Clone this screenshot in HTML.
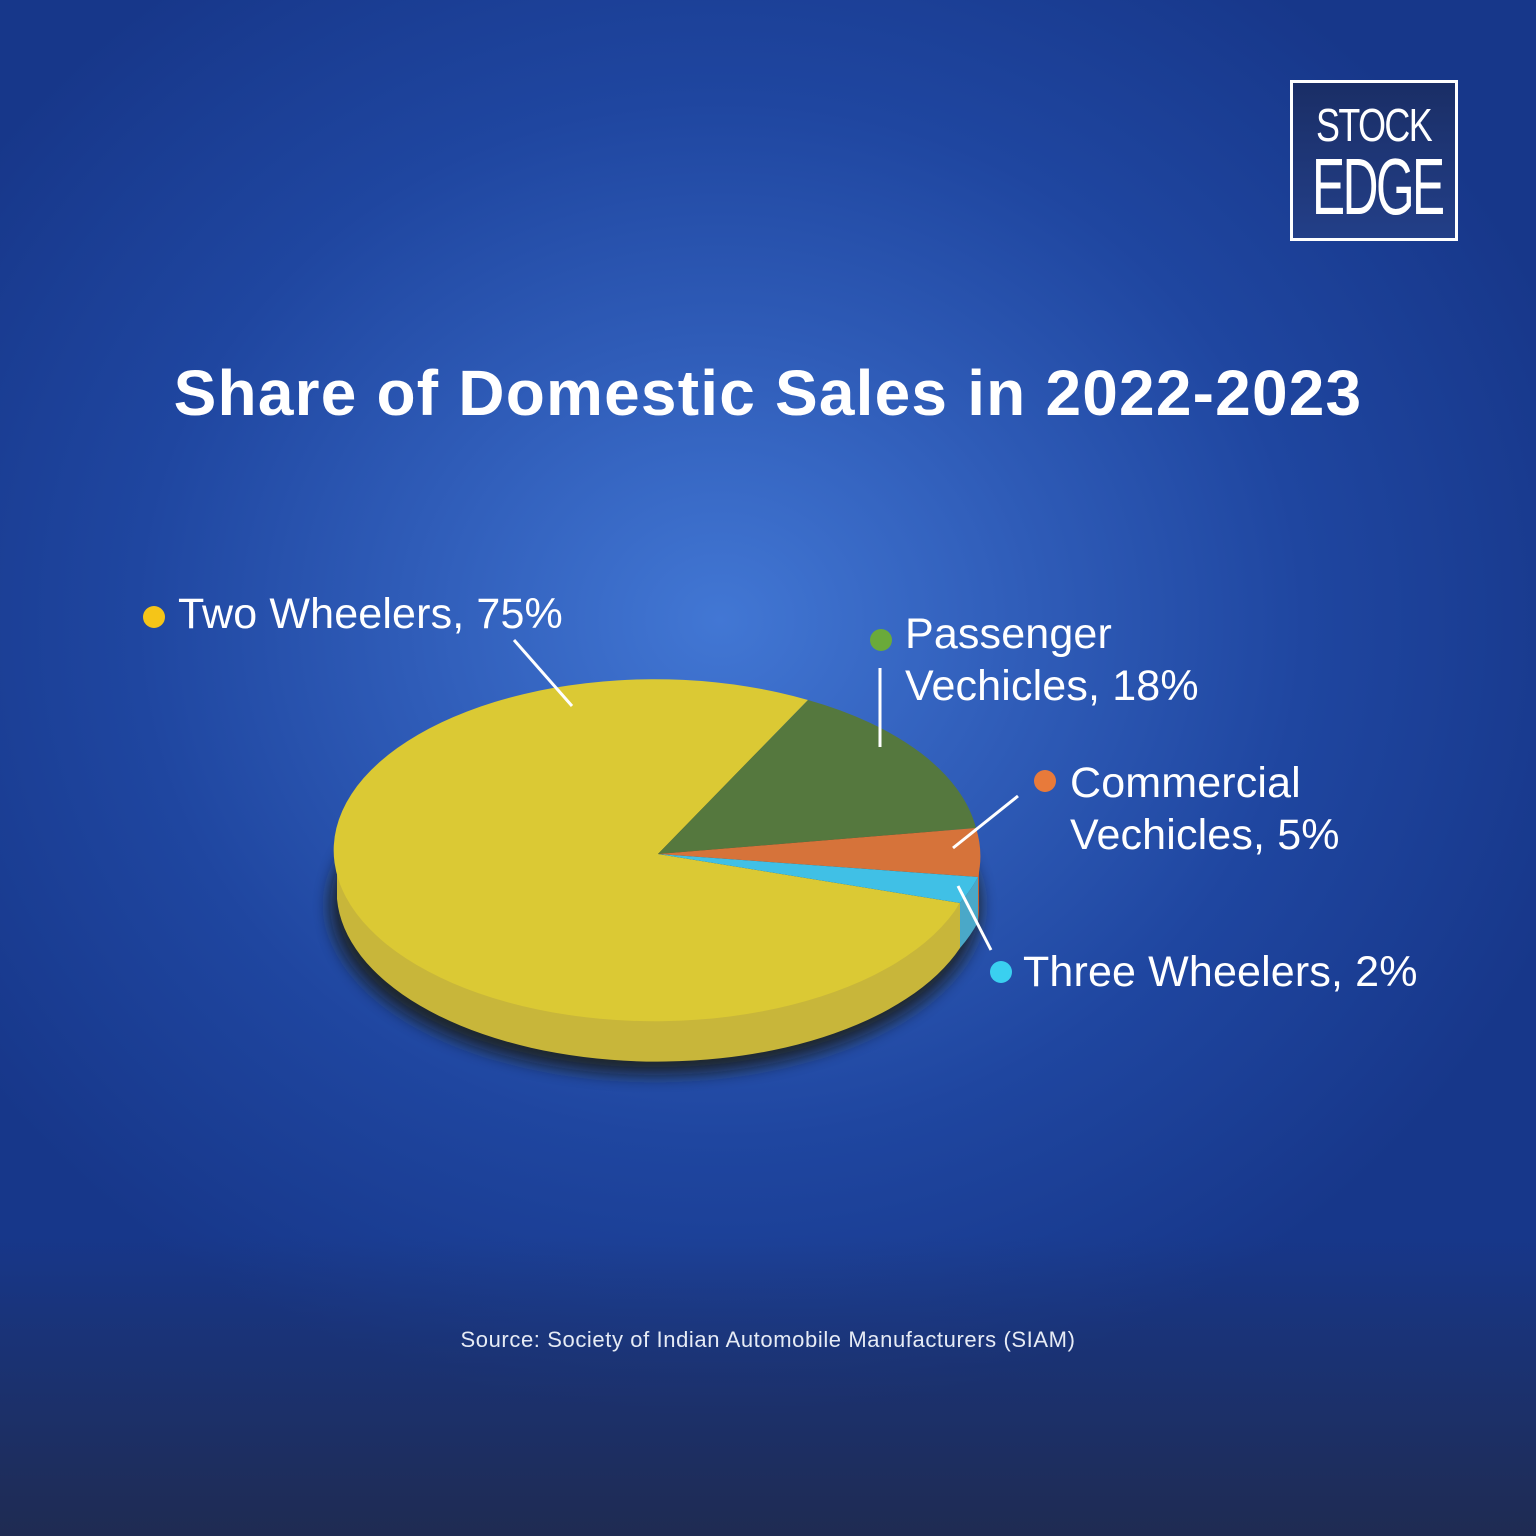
<!DOCTYPE html>
<html><head><style>
body{margin:0;width:1536px;height:1536px;overflow:hidden;font-family:"Liberation Sans",sans-serif;}
.bg{position:absolute;inset:0;background:radial-gradient(ellipse 900px 800px at 720px 620px,#4277d4 0%,#2f5cb8 35%,#1f46a0 65%,#17378a 100%);}
.bot{position:absolute;left:0;right:0;bottom:0;height:300px;background:linear-gradient(rgba(30,40,80,0),#1f2b52);}
.t{position:absolute;color:#fff;white-space:nowrap;}
.dot{position:absolute;width:22px;height:22px;border-radius:50%;}
.lab{font-size:43px;letter-spacing:0.15px;}
</style></head><body>
<div class="bg"></div><div class="bot"></div>
<div style="position:absolute;left:1290px;top:80px;width:162px;height:155px;border:3px solid #fff;background:linear-gradient(#1a2e66,#233f88);"></div>
<div class="t" style="left:1316px;top:98px;font-size:46px;letter-spacing:-2px;transform:scaleX(0.78);transform-origin:left;">STOCK</div>
<div class="t" style="left:1312px;top:144px;font-size:80px;letter-spacing:-4px;transform:scaleX(0.62);transform-origin:left;line-height:86px;">EDGE</div>
<div class="t" style="left:0;width:1536px;text-align:center;top:356px;font-size:64px;font-weight:bold;letter-spacing:1.2px;">Share of Domestic Sales in 2022-2023</div>
<svg width="1536" height="1536" style="position:absolute;left:0;top:0">
<defs><filter id="b"><feGaussianBlur stdDeviation="8"/></filter></defs>
<ellipse cx="655" cy="905" rx="325" ry="170" fill="#1a1a10" opacity="0.8" filter="url(#b)"/>
<path d="M337,854 A321 171 0 0 0 960,903 L960,948 A321 171 0 0 1 337,899 Z" fill="#c8b63a"/>
<path d="M960,903 A321 171 0 0 0 978,877 L978,922 A321 171 0 0 1 960,948 Z" fill="#4aa8c8"/>
<path d="M978,877 A321 171 0 0 0 979,860 L979,905 A321 171 0 0 1 978,922 Z" fill="#c8602a"/>
<path d="M658,854 L960,903 A321 171 0 1 1 808,700 Z" fill="#dbc934"/>
<path d="M658,854 L808,700 A321 171 0 0 1 976,828 Z" fill="#55783e"/>
<path d="M658,854 L976,828 A321 171 0 0 1 978,877 Z" fill="#d6733a"/>
<path d="M658,854 L978,877 A321 171 0 0 1 960,903 Z" fill="#40c0e6"/>
<g stroke="#fff" stroke-width="3">
<line x1="514" y1="640" x2="572" y2="706"/>
<line x1="880" y1="668" x2="880" y2="747"/>
<line x1="1018" y1="796" x2="953" y2="848"/>
<line x1="958" y1="886" x2="991" y2="950"/>
</g></svg>
<div class="dot" style="left:143px;top:606px;background:#f5c518"></div>
<div class="t lab" style="left:178px;top:590px;">Two Wheelers, 75%</div>
<div class="dot" style="left:870px;top:629px;background:#6aaa3a"></div>
<div class="t lab" style="left:905px;top:608px;line-height:52px;">Passenger<br>Vechicles, 18%</div>
<div class="dot" style="left:1034px;top:770px;background:#e87a3a"></div>
<div class="t lab" style="left:1070px;top:757px;line-height:52px;">Commercial<br>Vechicles, 5%</div>
<div class="dot" style="left:990px;top:961px;background:#3ad0f0"></div>
<div class="t lab" style="left:1023px;top:948px;">Three Wheelers, 2%</div>
<div class="t" style="left:0;width:1536px;text-align:center;top:1327px;font-size:22px;letter-spacing:0.6px;color:#e6ebf5;">Source: Society of Indian Automobile Manufacturers (SIAM)</div>
</body></html>
